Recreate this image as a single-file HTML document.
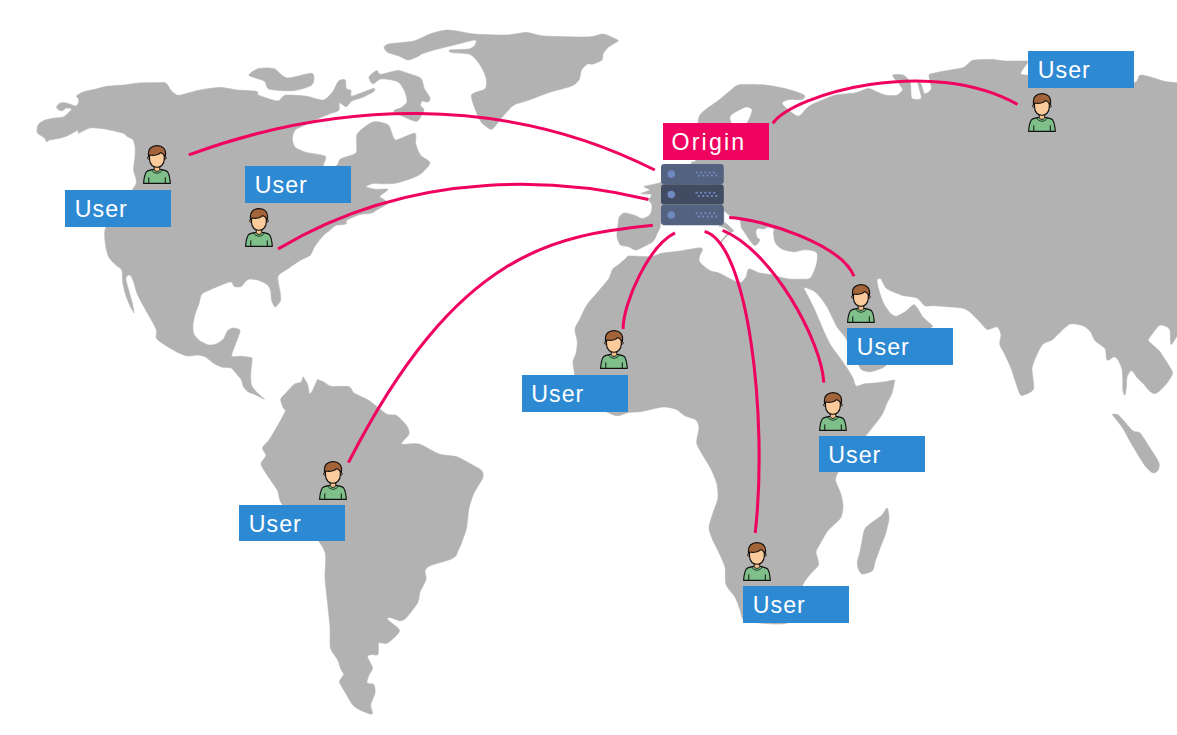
<!DOCTYPE html>
<html lang="en">
<head>
<meta charset="utf-8">
<title>Origin and users map</title>
<style>
html,body{margin:0;padding:0;background:#fff;}
body{width:1177px;height:735px;overflow:hidden;position:relative;font-family:"Liberation Sans",sans-serif;}
#stage{position:absolute;left:0;top:0;width:1177px;height:735px;overflow:hidden;background:#fff;}
#map{position:absolute;left:0;top:0;}
.l{fill:#b2b2b2;stroke:#b2b2b2;stroke-width:0.6;stroke-linejoin:round;}
.w{fill:#fff;stroke:#fff;stroke-width:0.6;stroke-linejoin:round;}
.ln{fill:none;stroke:#f00360;stroke-width:3.05;stroke-linecap:butt;}
.lab{position:absolute;width:106px;height:36.7px;background:#2e89d3;color:#fff;font-size:23.2px;letter-spacing:1px;line-height:36.7px;box-sizing:border-box;padding-left:9.8px;padding-top:1.1px;white-space:nowrap;}
.lab.org{background:#f00360;letter-spacing:2.2px;padding-left:8.4px;}
.ic{position:absolute;overflow:visible;}
#srv{position:absolute;left:661.1px;top:164.3px;}
</style>
</head>
<body>
<div id="stage">
<svg id="map" width="1177" height="735" viewBox="0 0 1177 735">
<g>
<path class="l" d="M37,129.9C37.1,128.8 37.5,125.6 38.4,124.4C39.3,123.2 42.8,121 44.5,120.3C46.2,119.6 50.4,118.7 52.7,118.3C55,117.9 61.5,117.6 63.5,116.9C65.5,116.2 68,113.2 69,112.2C70,111.2 72,109.3 71.7,108.8C71.4,108.3 67.4,107.9 66.3,108.1C65.2,108.3 63.2,110.6 62.2,110.8C61.2,111 58.8,110 58.1,109.5C57.4,109 56.5,107.4 56.7,106.7C56.9,106 58.5,103.8 59.5,103.3C60.5,102.8 63.4,102.5 64.9,102.7C66.4,102.9 70.4,104.3 71.7,104.7C73,105.1 75,106.3 75.8,106.1C76.6,105.9 78.2,103.6 78.5,102.7C78.8,101.8 78.7,99.4 78.5,98.6C78.3,97.8 75.9,96.7 76.5,95.9C77.1,95.1 81.5,92.6 83.9,91.8C86.3,91 93.4,89.7 96.2,89C99,88.3 103.8,86.8 107.1,86.3C110.4,85.8 119.5,85.4 123.4,85C127.3,84.6 135.8,83.2 139.7,82.9C143.6,82.6 153,82.7 156.1,82.7C159.2,82.7 163.8,82 165.6,82.9C167.4,83.8 169.9,89.1 171,90.4C172.1,91.7 174,93.2 175.1,93.8C176.2,94.4 177,95.7 180,95.2C183,94.7 195.2,90.9 200,90C204.8,89.1 215.5,87.5 220,87.5C224.5,87.5 233.1,89.5 237.5,90C241.9,90.5 254.2,90.8 256.7,91.4C259.2,92 256.1,94 258.6,95.2C261.1,96.4 274.4,101 277.6,101C280.8,101 281.8,95.8 285.2,95.2C288.6,94.6 301.6,95.6 306.2,96.2C310.8,96.8 320.1,100.6 323.3,100C326.5,99.4 331.1,93.7 332.9,91.4C334.7,89.1 337.1,82.4 338.6,81C340.1,79.6 344.3,79.1 345.2,80C346.1,80.9 345.5,87.3 346.2,88.6C346.9,89.9 350.3,89.6 351,90.5C351.7,91.4 349.4,96.4 352,96.2C354.6,96 370.3,89.2 372.9,88.6C375.5,88 375,90.4 373.8,91.4C372.6,92.4 365.9,95.8 363.3,97C360.7,98.2 354.1,99.8 352,101C349.9,102.2 347.7,106.5 346.2,106.7C344.7,106.9 340.4,102.4 339.5,102.9C338.6,103.4 340,109.1 338.6,110.5C337.2,111.9 330.7,113.4 328,114.5C325.3,115.6 318.9,118.2 316,119.5C313.1,120.8 306.5,124.3 304,125.5C301.5,126.7 296.9,128.2 295.5,129.5C294.1,130.8 292.8,134.9 292.5,136.5C292.2,138.1 292.6,141.6 293,143C293.4,144.4 294.4,146.9 296,148C297.6,149.1 302.7,151.4 306.2,152.4C309.7,153.4 323.1,154.6 325.2,156.2C327.3,157.8 322.7,164.3 323.3,165.7C323.9,167.1 328.3,168.1 330,168C331.7,167.9 336.3,165.9 337.6,164.8C338.9,163.7 338.3,160.4 340.5,159C342.7,157.6 353.8,155.1 355.7,153.3C357.6,151.5 356.5,146.2 356.7,143.8C356.9,141.4 355.7,135.9 357.6,133.3C359.5,130.7 369.3,123 372.9,122C376.5,121 385.6,123.1 388,124.8C390.4,126.5 391.9,134.4 392.9,136.2C393.9,138 394.1,140.3 396.7,140C399.3,139.7 412.5,132.8 414.8,133.3C417.1,133.8 415,141.2 415.7,143.8C416.4,146.4 418.8,152.9 420.5,155.2C422.2,157.5 430,160.6 430,162.9C430,165.2 422.9,172.1 420.5,174C418.1,175.9 412.6,177.9 409.7,179C406.8,180.1 399.3,182.4 396,183C392.7,183.6 385.2,183.8 382.4,183.8C379.6,183.8 375,183.1 373,183.4C371,183.7 365.7,186 366,186.7C366.3,187.4 373,189 375.6,189.3C378.2,189.6 387.1,188.7 387.9,189.3C388.7,189.9 383.4,193.1 382.4,194C381.4,194.9 379.5,196 379.7,196.7C379.9,197.4 382.8,198.7 383.8,199.5C384.8,200.3 387.7,202.4 388,203C388.3,203.6 387.7,203.8 386.5,204.5C385.3,205.2 380.2,208 378.4,209C376.6,210 373.8,212.3 371.6,213C369.4,213.7 363,213.7 360,214.5C357,215.3 348.7,218.9 347,220C345.3,221.1 347,223.4 345.7,224C344.4,224.6 338,224.7 336.2,225.3C334.4,225.9 332.3,228.1 330.7,229.4C329.1,230.7 324.6,234.1 322.6,236.2C320.6,238.3 315.9,244.7 314.4,247C312.9,249.3 311.9,253.6 310.3,255.2C308.7,256.8 303.4,258.5 300.8,260C298.2,261.5 291.7,266 289,268C286.3,270 279.1,273.5 278,276.3C276.9,279.1 279.7,288.4 280,291.3C280.3,294.2 281,298.9 280.4,300.8C279.8,302.7 276.2,307 275.2,307C274.2,307 272.4,302.8 271.8,300.8C271.2,298.8 271.1,292 270.5,290C269.9,288 268.4,285.7 267,284.5C265.6,283.3 261.1,281.1 259,280.4C256.9,279.7 251,278.8 249.4,279C247.8,279.2 246.3,280.9 245.3,281.8C244.3,282.7 242.5,285.9 241.2,286.5C239.9,287.1 235.6,287.1 234.4,286.5C233.2,285.9 232.6,282 231,281.8C229.4,281.6 223.2,284.3 220.8,285.2C218.4,286.1 213.6,288.2 211.3,289.3C209,290.4 203.3,292.3 201.8,294C200.3,295.7 199.8,301.1 199,303.5C198.2,305.9 195.7,311.9 195,314.4C194.3,316.9 193.2,321.7 193,324C192.8,326.3 192.9,331.5 193.6,333.5C194.3,335.5 197.2,338.9 199,340.3C200.8,341.7 206.5,344.6 208.6,345C210.7,345.4 214.9,344.4 216.7,343.7C218.5,343 222.2,340.6 223.5,339C224.8,337.4 226.5,332 227.6,330.7C228.7,329.4 231.5,328.1 233,328C234.5,327.9 239.2,329 239.9,330C240.6,331 239.2,334.2 238.5,336.2C237.8,338.2 235.2,344.6 234.4,347C233.6,349.4 230.9,355.2 231.7,356.3C232.5,357.4 238.8,356.1 241.2,356.3C243.6,356.5 250.1,357.2 251.4,357.7C252.7,358.2 252.1,358.4 252,360.4C251.9,362.4 250.8,371 250.7,374C250.6,377 250.7,382.9 251.4,385C252.1,387.1 254.6,390 256.2,391.7C257.8,393.4 264.4,399.2 264.4,399.2C264.4,399.2 256.8,395.3 254.8,394.4C252.8,393.5 249.4,392.7 248,391.7C246.6,390.7 244.1,387.8 243.3,386.3C242.5,384.8 242.3,381.3 241.2,379.5C240.1,377.7 235.6,372.7 234.4,371.3C233.2,369.9 232.5,368.4 231,367.9C229.5,367.4 224.2,367.7 222.2,367.2C220.2,366.7 216,364.7 214,363.5C212,362.3 207.4,358 205.5,357C203.6,356 200.1,355.1 198,355C195.9,354.9 190.5,356.2 188.2,356C185.9,355.8 181.7,354.3 179,353C176.3,351.7 168.4,347.3 165.7,345.5C163,343.7 157.6,340.2 156.5,338.4C155.4,336.6 157.1,332.4 156.5,330.2C155.9,328 153,322.9 151.4,320C149.8,317.1 145,308.9 143.3,305.7C141.6,302.5 138.2,296.2 137.1,293.5C136,290.8 134.8,285.4 134.1,283.3C133.4,281.2 131.7,277.1 131,276.1C130.3,275.1 128.6,274.7 128,275.1C127.4,275.5 125.8,277.2 125.9,279.2C126,281.2 128.3,288.7 129,291.4C129.7,294.1 131.4,299 132,301.6C132.6,304.2 134.1,312.9 134.1,312.9C134.1,312.9 131,307.8 130,305.7C129,303.6 126.8,298.2 125.9,295.5C125,292.8 123.4,286.4 122.9,283.3C122.4,280.2 122.7,272.2 121.8,270C120.9,267.8 117.3,266.5 115.7,264.9C114.1,263.3 109.8,259.1 108.6,256.7C107.4,254.3 105.9,247.9 105.5,244.5C105.1,241.1 103.8,232.9 105.5,228.2C107.2,223.5 116.3,210.3 120,205C123.7,199.7 134.4,188.2 136,184C137.6,179.8 133.7,173.2 133.6,170C133.5,166.8 134.8,160 135,157.1C135.2,154.2 135.3,148.3 135,146.2C134.7,144.1 133.8,140.5 132.9,139.4C132,138.3 128.6,137.4 127.5,136.7C126.4,136 125.2,134 123.4,133.3C121.6,132.6 115.1,131.1 112.5,130.5C109.9,129.9 104.2,128.8 101.6,128.5C99,128.2 92.8,127.6 90.7,127.8C88.6,128 85.4,129.8 83.9,130.5C82.4,131.2 78.5,133.3 78.5,133.3C78.5,133.3 77.8,129.9 77.8,129.9C77.8,129.9 75.9,131.1 74.4,131.9C72.9,132.7 67,135.9 64.9,136.7C62.8,137.5 58.6,138.3 56.7,138.7C54.8,139.1 50.5,139.7 49.3,140.1C48.1,140.5 46.5,142.1 46.5,142.1C46.5,142.1 45.6,139.1 44.5,138C43.4,136.9 38.6,134.3 37.7,133.3C36.8,132.3 36.9,131 37,129.9Z"/>
<path class="l" d="M249,75.2C248.3,73.7 255.6,69.4 258.6,68.6C261.6,67.8 270.4,67.5 273.8,68.6C277.2,69.7 282.4,77.4 287,78C291.6,78.6 309,72.5 312,73.3C315,74.1 314.1,82.7 312,84.8C309.9,86.9 298.7,89.8 294.8,90.5C290.9,91.2 282.7,90.7 279.5,90.5C276.3,90.3 269.8,89.7 268,88.6C266.2,87.5 266.6,82.6 264.3,81C262,79.4 249.7,76.7 249,75.2Z"/>
<path class="l" d="M369,77C369.5,75.4 375.3,70.8 376.7,70.5C378.1,70.2 378,74.3 380.5,74.3C383,74.3 394.6,70.7 397.6,70.5C400.6,70.3 402.5,71.5 405.2,72.4C407.9,73.3 418.2,76.1 420.5,78C422.8,79.9 423.2,86.2 424.3,88.6C425.4,91 429.6,96.4 430,98C430.4,99.6 428.9,101.6 428,102C427.1,102.4 423.3,100.6 422.4,101C421.5,101.4 420.3,104.6 420.5,105.7C420.7,106.8 424.3,108.2 424,110C423.7,111.8 419.4,119.9 417.6,121C415.8,122.1 411.9,120.2 409,119C406.1,117.8 394.7,112.8 393.8,111.4C392.9,110 399.8,108.7 401.4,107.6C403,106.5 406.5,103.8 407,102C407.5,100.2 406.1,94.7 405.2,92.4C404.3,90.1 401.1,84.4 399.5,82.9C397.9,81.4 394.3,80.5 392,80C389.7,79.5 382.8,78.5 380.5,79C378.2,79.5 374.3,84 372.9,83.8C371.5,83.6 368.5,78.6 369,77Z"/>
<path class="l" d="M384,47.5C384.1,46.5 385.4,44.8 389,44C392.6,43.2 409.1,42.2 414,41C418.9,39.8 425.9,35.3 430,34C434.1,32.7 442.7,30 448,30C453.3,30 467,33.4 474,34C481,34.6 500.2,35.2 506.5,35C512.8,34.8 522,32.4 526.5,32.5C531,32.6 536.6,35.5 544,36C551.4,36.5 580.9,37.2 588,37C595.1,36.8 599.7,33.8 603,34C606.3,34.2 613.7,38.2 615.5,39C617.3,39.8 618.9,40 618,41C617.1,42 609.8,45.9 608,47.5C606.2,49.1 603.7,52.5 603,54C602.3,55.5 603.2,58.8 602,60C600.8,61.2 594.7,63.5 593,64C591.3,64.5 588.9,63.3 587.5,64C586.1,64.7 582.5,68.1 581.5,70C580.5,71.9 580.2,78.1 579,80C577.8,81.9 575.1,84.5 571.5,86C567.9,87.5 554.1,90.8 549,92.5C543.9,94.2 533.2,98.5 529,100C524.8,101.5 517,103.2 514,105C511,106.8 506.4,112.3 504,115C501.6,117.7 495.7,125.8 494,127.5C492.3,129.2 491.5,129.6 490,129C488.5,128.4 483.1,124.5 481.5,122.5C479.9,120.5 477.7,115.8 476.5,112.5C475.3,109.2 470.5,97.8 471.5,95C472.5,92.2 483.2,90.8 485,89C486.8,87.2 486.7,82.3 486.5,80C486.3,77.7 484.2,72.4 483,70C481.8,67.6 478.2,61.9 476.5,60C474.8,58.1 472,54.9 469,54C466,53.1 453.8,53 451.5,52.5C449.2,52 447.9,50.4 450,50C452.1,49.6 466,49.6 469,49C472,48.4 474.3,46.1 475,45C475.7,43.9 477.5,40 475,40C472.5,40 458.9,43.8 454,45C449.1,46.2 437.9,48.9 434,50C430.1,51.1 423.3,53.3 421.5,54C419.7,54.7 420.6,55.3 419,56C417.4,56.7 410.4,60 408,60C405.6,60 401.4,56.9 399,56C396.6,55.1 389.8,53.5 388,52.5C386.2,51.5 383.9,48.5 384,47.5Z"/>
<path class="l" d="M294.3,384.2C296.1,382.9 300,383.1 301,382.2C302,381.3 303,376.7 303,376.7C303,376.7 306.4,381.5 307.2,383.5C308,385.5 309.3,393.7 309.3,393.7C309.3,393.7 311,393.4 312,391.7C313,390 317.4,379.5 317.4,379.5C317.4,379.5 322.6,381.4 324.2,382.2C325.8,383 328,385.8 331,386.3C334,386.8 346.2,385.9 349,386.7C351.8,387.5 351.6,391.3 354,393C356.4,394.7 365.1,398 369,400.5C372.9,403 383.2,412.2 386.5,414C389.8,415.8 394.1,414.1 396.5,415.5C398.9,416.9 405,423.3 406.5,425.5C408,427.7 409.6,431.8 409,434C408.4,436.2 400.3,442.8 401.5,444C402.7,445.2 414.5,442.8 419,444C423.5,445.2 434.5,452.5 439,454C443.5,455.5 452.9,455.6 456.5,456.7C460.1,457.8 466,461.3 469,463C472,464.7 479.9,468.7 481.5,470.5C483.1,472.3 483.6,475.3 482.7,478C481.8,480.7 475.6,489.4 474,493C472.4,496.6 469.9,503.8 469,508C468.1,512.2 467.4,523.8 466.5,528C465.6,532.2 462.6,540.1 461.5,543C460.4,545.9 458.2,550.5 457.5,552C456.8,553.5 456.9,554.8 456,555.7C455.1,556.6 453.1,558.3 450,559.5C446.9,560.7 433,564.4 430,565.7C427,567 425.5,569 425,570.7C424.5,572.4 426.6,576.9 426,579.5C425.4,582.1 421,589.2 420,592C419,594.8 419.2,599.9 417.5,603C415.8,606.1 408.1,615.9 406,618C403.9,620.1 401.9,620.8 400,620.7C398.1,620.6 391.5,617.6 390,617.5C388.5,617.4 386.4,617.9 387.5,619.5C388.6,621.1 399.5,627.9 399.5,630.7C399.5,633.5 390,641.5 387.5,643C385,644.5 379.8,641.6 378.7,643C377.6,644.4 378.9,653.1 378,654.5C377.1,655.9 372.3,654.2 371,654.5C369.7,654.8 367.3,655.4 367.5,657C367.7,658.6 372.4,665.8 372.5,668C372.6,670.2 369.4,673.9 368.7,675.7C368,677.5 366.4,681.9 367,683C367.6,684.1 372.7,683.3 373.7,684.5C374.7,685.7 375.4,690.6 375,693C374.6,695.4 371,702.1 370.7,704.5C370.4,706.9 372.6,711.9 372.5,713C372.4,714.1 371.5,714.4 370,714C368.5,713.6 362.1,711.1 360,710C357.9,708.9 354.3,706.7 352.5,704.5C350.7,702.3 346.6,694.7 345,692C343.4,689.3 339.7,684.1 339.5,682C339.3,679.9 343.5,676 343.7,674.5C343.9,673 341.7,671.3 341,669.5C340.3,667.7 338.8,662.1 337.5,659.5C336.2,656.9 331.4,651.9 330.5,648C329.6,644.1 330.4,632.5 330,627C329.6,621.5 328.1,608 327.5,602C326.9,596 325.3,583 325,577C324.7,571 326.8,557.6 325,552C323.2,546.4 315.1,535.7 310,530C304.9,524.3 286.4,509.4 282.5,504.7C278.6,500 279.3,494 277.5,490.5C275.7,487 269.5,478.7 267.5,475.5C265.5,472.3 261.2,466.4 261,464C260.8,461.6 265.8,457.4 266,455.5C266.2,453.6 262.1,449.9 262.5,448C262.9,446.1 267.5,442.2 269,440C270.5,437.8 273.8,432.2 275.2,429.8C276.6,427.4 279.5,422.6 280.7,420.3C281.9,418 285.1,412.2 285.4,410.7C285.7,409.2 284,409.4 283.4,408C282.8,406.6 280.4,401 280.7,399.2C281,397.4 284.4,394.8 286,393C287.6,391.2 292.5,385.5 294.3,384.2Z"/>
<path class="l" d="M661,182.4C657.6,183.6 654,184.2 652,184.7C650,185.2 644.2,186.1 644,186.7C643.8,187.3 650.4,189.2 650,190C649.6,190.8 640.6,193.2 640.8,193.7C641,194.2 650.4,193.7 651.4,194.5C652.4,195.3 648.9,198.7 649,200C649.1,201.3 651.7,203.6 652,205C652.3,206.4 651.8,210.3 651.4,211.6C651,212.9 650.1,214.9 649,215.7C647.9,216.5 644.2,218.6 642.4,218.6C640.6,218.6 636.4,216 634.3,215.3C632.2,214.6 626.3,212.8 624.5,212.9C622.7,213 620.3,215.4 619.6,216.5C618.9,217.6 618.7,219.6 618.4,222C618.1,224.4 616.7,233.7 617,236.5C617.3,239.3 619.2,243.8 620.5,245C621.8,246.2 626.2,245.9 628,246.5C629.8,247.1 633.9,249.8 635.5,250C637.1,250.2 638.9,249 641,248C643.1,247 651.1,243.2 653,241.5C654.9,239.8 656.2,235.6 657,234C657.8,232.4 659,229.4 660,228C661,226.6 658,222.7 665,222C672,221.3 711.5,221.5 718,222C724.5,222.5 719,226.3 719,226.3C719,226.3 722.7,226.8 724,227.5C725.3,228.2 729.1,230.9 729.5,231.8C729.9,232.7 727.6,235.3 727.6,235.3C727.6,235.3 720.6,243.2 720.6,243.2C720.6,243.2 720,242.4 720,242.4C720,242.4 726.6,234.6 726.6,234.6C726.6,234.6 730.1,232.6 731,232.2C731.9,231.8 734,231 734,231C734,231 728.4,225.4 727.2,224.3C726,223.2 723.8,222.2 723.8,222.2C723.8,222.2 723.8,210.6 723.8,210.6C723.8,210.6 727.4,213.8 728.6,214.7C729.8,215.6 732.6,217.3 734,218C735.4,218.7 739.1,219 740,220.2C740.9,221.4 740.9,226.2 741.5,227.7C742.1,229.2 744.1,231.6 745,233C745.9,234.4 748,237.8 749,239.2C750,240.6 752.8,244.3 753.7,245C754.6,245.7 755.7,245.6 756.5,245C757.3,244.4 759.9,240.9 760,240C760.1,239.1 757.5,238.2 757,237.2C756.5,236.2 755.7,232.8 755.8,231.7C755.9,230.6 756.8,228.6 757.8,228.3C758.8,228 762.8,229.2 764,229C765.2,228.8 766.8,227 768,227C769.2,227 773.3,228.3 774,229C774.7,229.7 773.4,231.5 773.5,233C773.6,234.5 774.3,239.8 774.8,241.3C775.3,242.8 776.5,244.7 777.6,245.7C778.7,246.7 781.7,249.1 783.7,249.8C785.7,250.5 791.5,251.8 793.9,251.8C796.3,251.8 801.7,249.9 804,249.8C806.3,249.7 811.7,250.3 813.3,250.8C814.9,251.3 816.9,252.3 817.3,253.9C817.7,255.5 817.2,261.5 816.6,264C816,266.5 813.5,273 812.5,274.8C811.5,276.6 811.3,278.4 808.4,278.9C805.5,279.4 792.6,279.4 788,278.9C783.4,278.4 773.4,275.3 770,274.6C766.6,273.9 762.2,273.7 759.7,273C757.2,272.3 750.4,268.5 748.8,269C747.2,269.5 747,275.5 746,277.1C745,278.7 742.2,282.3 740.6,282.6C739,282.9 735,281.1 732.4,279.9C729.8,278.7 721.4,274.1 718.8,273C716.2,271.9 712.7,272 710.7,271C708.7,270 703.9,266.1 702.5,264.9C701.1,263.7 699.4,261.9 699.1,260.8C698.8,259.7 699.4,256.8 699.8,255.4C700.2,254 702.7,250.2 702.5,249.3C702.3,248.4 701.3,247.7 698.4,247.9C695.5,248.1 682.4,250.7 678,251.3C673.6,251.9 665,252.7 661.7,253.3C658.4,253.9 654.7,256.4 650.8,256.7C646.9,257 631.9,255.8 629,256C626.1,256.2 627.6,256.9 626.3,258C625,259.1 619.8,263.6 618.2,264.9C616.6,266.2 613.8,267.3 612.7,269C611.6,270.7 610.6,276 608.8,278.7C607,281.4 600.6,288.7 598,291.8C595.4,294.9 589.1,301.7 587,304.8C584.9,307.9 581.9,315 580.5,317.9C579.1,320.8 575.4,325.9 575,328.8C574.6,331.7 577.2,338.9 577.3,341.8C577.4,344.7 576.7,350.3 576.2,352.7C575.7,355.1 573.3,359.3 573,361.4C572.7,363.5 573.8,368.2 574,370C574.2,371.8 574.3,373.4 575,376C575.7,378.6 578,388.5 580,392C582,395.5 588.8,402.6 592,405C595.2,407.4 603.5,410.6 606.6,411.9C609.7,413.2 614.9,415.7 617.5,415.8C620.1,415.9 625.5,413 628.4,412.5C631.3,412 637.3,412.2 641.5,411.5C645.7,410.8 658.9,407.3 663,407C667.1,406.7 673.4,408.2 676,409.3C678.6,410.4 682.6,414.5 685,415.8C687.4,417.1 694.3,418.5 696,420C697.7,421.5 698.9,425.2 699,428C699.1,430.8 696.2,439.7 696.7,443C697.2,446.3 701.3,452.5 703,455.5C704.7,458.5 708.9,464.7 710.5,468C712.1,471.3 715.8,479.4 716.7,483C717.6,486.6 718.4,494.4 718,498C717.6,501.6 714.1,509.4 713,513C711.9,516.6 709,524.7 709,528C709,531.3 711.8,537.6 713,540.5C714.2,543.4 717.3,548.8 718.7,552C720.1,555.2 724.1,563.1 725,567C725.9,570.9 724.8,580.9 726,584.5C727.2,588.1 733.3,594 735,597C736.7,600 739,606.8 740,609.5C741,612.2 741.8,618 743,619.5C744.2,621 744.4,621.7 750,622C755.6,622.3 783.7,626.4 790,622C796.3,617.6 800,591.4 802.4,585.7C804.8,580 808.1,577 810,574.5C811.9,572 817.9,567.2 818.6,564.5C819.3,561.8 815.8,554.6 816,552C816.2,549.4 819.1,545.6 820.5,543C821.9,540.4 825.6,533.5 828,530.5C830.4,527.5 838.7,521 840.5,518C842.3,515 843,508.5 843,505.5C843,502.5 841.4,496 840.5,493C839.6,490 835.8,483 835.5,480.5C835.2,478 836.3,475.6 838,472.5C839.7,469.4 846.4,459.7 850,455C853.6,450.3 864.2,437.7 868,433C871.8,428.3 879.2,419.1 881.5,415.5C883.8,411.9 885.7,405.7 887,403C888.3,400.3 891.1,395.5 892,393C892.9,390.5 894.2,383.4 894.5,381.8C894.8,380.2 895.2,380 894.3,380C893.4,380 889,381.1 886.7,381.5C884.4,381.9 877.9,382.7 875.2,383C872.5,383.3 866.1,383.6 863.8,384C861.5,384.4 857.4,386.8 856.1,386.1C854.8,385.4 854,380.1 852.9,378C851.8,375.9 848.8,370.8 847.1,368.2C845.4,365.6 841,359.4 839,356.7C837,354 832.6,348.2 830.8,345.3C829,342.4 825.7,335.1 824.3,332.2C822.9,329.3 820.6,323.5 819.4,320.8C818.2,318.1 815.9,312.3 814.5,309.4C813.1,306.5 809.3,298.8 808,296.3C806.7,293.8 804.1,289.2 803.9,288.2C803.7,287.2 805,287.4 806.3,287.8C807.6,288.2 812.7,290.2 814.5,291.4C816.3,292.6 819.4,296 821,298C822.6,300 826.2,305.4 827.6,307.8C829,310.2 831.2,315.3 832.4,317.6C833.6,319.9 835.9,325.2 837.3,327.3C838.7,329.4 842.7,333.9 843.9,335.5C845.1,337.1 846.1,338.4 847.1,340.4C848.1,342.4 850.6,349.1 852,352C853.4,354.9 857.4,362.8 858.6,364.9C859.8,367 860.4,369 861.8,369.8C863.2,370.6 867.7,371.9 870,371.8C872.3,371.7 879,369.4 881,368.6C883,367.8 883.2,367.6 886.7,364.8C890.2,362 904.7,349.4 910,345C915.3,340.6 927.8,330.3 930.5,328C933.2,325.7 933.3,327 932.4,325.7C931.5,324.4 924.7,319.2 922.9,317C921.1,314.8 918.2,309.1 917,307.6C915.8,306.1 914.7,304.3 913.3,304.8C911.9,305.3 907.8,310 905.7,311.4C903.6,312.8 898,316 896.2,316.2C894.4,316.4 892,314.8 890.5,313.3C889,311.8 885.2,306.5 883.8,303.8C882.4,301.1 879.8,293.4 879,290.5C878.2,287.6 876.8,281.4 877,280C877.2,278.6 879.8,278 881,279C882.2,280 884.2,286.7 886.7,288.6C889.2,290.5 898.4,294.1 902,295.2C905.6,296.3 914.3,296.7 917,298C919.7,299.3 923,304.8 924.8,305.7C926.6,306.6 929.7,305.6 932.4,305.7C935.1,305.8 944,306.4 947.6,306.7C951.2,307 959.3,307.4 962,308C964.7,308.6 967.6,310.1 969.7,311.8C971.8,313.5 977.6,319.7 979.7,321.8C981.8,323.9 985.2,328.8 987.3,329.4C989.4,330 995.7,326.3 997.3,326.9C998.9,327.5 1000.7,332.3 1001,334.4C1001.3,336.5 999.3,342 999.8,344.4C1000.3,346.8 1003.5,351.6 1004.8,354.4C1006.1,357.2 1009.4,363.7 1011,368C1012.6,372.3 1017.2,387.2 1018.5,390.5C1019.8,393.8 1020.2,395.7 1022,395.5C1023.8,395.3 1032.3,392.3 1033.5,389C1034.7,385.7 1031.5,372.7 1032,368.4C1032.5,364.1 1036.1,356.4 1037.4,353.5C1038.7,350.6 1041.2,345.6 1043,344C1044.8,342.4 1050.3,341 1052,340C1053.7,339 1054.8,337.2 1057,335.3C1059.2,333.4 1066.8,325.1 1070,324C1073.2,322.9 1081,325 1083.5,326C1086,327 1089.3,330.3 1090.7,332C1092.1,333.7 1093.1,338.4 1094.8,340.4C1096.5,342.4 1103.6,346.4 1105,348.6C1106.4,350.8 1106,357.4 1106.5,358.8C1107,360.2 1108.1,360.3 1109,360C1109.9,359.7 1112.9,356.7 1114,356.7C1115.1,356.7 1117,358.3 1118,359.8C1119,361.3 1121.4,366.5 1122,369C1122.6,371.5 1122.7,378.3 1122.8,381C1122.9,383.7 1122.7,389.7 1123,391.4C1123.3,393.1 1124.6,395.6 1125,395C1125.4,394.4 1126.2,388.2 1126.4,386C1126.6,383.8 1126.5,378.8 1127,377C1127.5,375.2 1129.7,371.6 1130.5,371C1131.3,370.4 1132.8,371.3 1133.5,372C1134.2,372.7 1135.4,375.6 1136.6,377C1137.8,378.4 1142.2,382.4 1143.7,384C1145.2,385.6 1147.8,389.3 1149,390.4C1150.2,391.5 1152.8,393.4 1154,393.5C1155.2,393.6 1157.4,392.7 1159,391.4C1160.6,390.1 1165.4,385 1167,383C1168.6,381 1171.4,376.4 1172,375C1172.6,373.6 1172.7,372.7 1172,371C1171.3,369.3 1167.6,363.4 1166,361C1164.4,358.6 1161,353 1159,350.6C1157,348.2 1150.2,342.9 1149,341.4C1147.8,339.9 1147.8,340.3 1149,338.4C1150.2,336.5 1157.1,327.1 1159,325.6C1160.9,324.1 1163.7,325.5 1165,326C1166.3,326.5 1169.3,327.8 1170,330C1170.7,332.2 1170.2,343.8 1171,344.5C1171.8,345.2 1176.2,337 1177,336C1177.8,335 1177.9,366.4 1178,336C1178.1,305.6 1178.1,113.1 1178,82.7C1177.9,52.3 1178.5,82.8 1177,82.7C1175.5,82.6 1168.1,82.1 1165.2,81.5C1162.3,80.9 1155.7,78.5 1152.7,77.7C1149.7,76.9 1142.2,74.6 1140,75.2C1137.8,75.8 1138.8,81.9 1134,82.7C1129.2,83.5 1112.7,82.9 1100,82C1087.3,81.1 1037.3,76.4 1027.8,75.3C1018.3,74.2 1020.8,74.6 1020.8,73C1020.8,71.4 1027.5,63.4 1027.8,62C1028.1,60.6 1025.7,61.1 1023,61C1020.3,60.9 1009,61.2 1005.3,61C1001.6,60.8 995.7,59.5 992,59.4C988.3,59.3 977,59.6 974.4,59.9C971.8,60.2 971.3,61.1 970,62C968.7,62.9 965.4,66.7 963.3,67.6C961.2,68.5 955.7,69.2 952.3,69.8C948.9,70.4 937.4,72.3 934.6,73C931.8,73.7 929.4,73.4 929,75.3C928.6,77.2 931.8,86.4 931.3,88.6C930.8,90.8 925.9,94.6 924.7,94C923.5,93.4 921.8,85.3 921,84C920.2,82.7 918,81.4 918,83C918,84.6 921.5,95.4 921.4,97.4C921.3,99.4 918.2,99.6 917,99.6C915.8,99.6 912.2,99.4 911.4,97.4C910.6,95.4 911.2,85.7 910.3,83C909.4,80.3 905.8,76.2 903.7,75.3C901.6,74.4 893.2,74.2 892.7,75.3C892.2,76.4 898.1,82.5 899.3,84.2C900.5,85.9 902.9,88.4 902.6,89.7C902.3,91 899,94.5 897,95.2C895,95.9 888.4,95.6 886,95.2C883.6,94.8 879.1,92.8 877,92C874.9,91.2 871,88.5 868.4,88.6C865.8,88.7 859,92.2 855,93C851,93.8 840,93.9 835,95.2C830,96.5 816.4,102.4 813,104C809.6,105.6 808.3,107 806.5,108.5C804.7,110 800.6,116.7 797.7,116.2C794.8,115.7 783.3,106 782.2,104C781.1,102 786.4,100.1 788.8,99.6C791.2,99.1 800.1,100.1 802,99.6C803.9,99.1 805.4,96.3 804.3,95.2C803.2,94.1 795.9,91.7 793,90.8C790.1,89.9 783.6,88.2 780,87.5C776.4,86.8 767.8,85.1 762.9,84.8C758,84.5 742.9,84.1 739,84.8C735.1,85.5 732.9,88.7 730.5,90.5C728.1,92.3 722,97.7 719,100C716,102.3 708,107.7 705.7,109.5C703.4,111.3 700.9,113.4 700,115C699.1,116.6 698.5,117.7 698,123C697.5,128.3 696.7,154.3 696,159C695.3,163.7 692.7,161.2 692,162C691.3,162.8 691.4,164.4 690,166C688.6,167.6 683.5,173 680,175C676.5,177 664.4,181.2 661,182.4Z"/>
<path class="l" d="M887,508C887.9,508.3 889.1,515 889,518C888.9,521 886.6,530 885.8,533C885,536 882.9,540.7 882,543C881.1,545.3 879.4,549.7 878.6,552C877.8,554.3 875.7,559.8 875,562C874.3,564.2 873.9,569.3 872.4,570.7C870.9,572.1 864.1,574.1 862.4,574C860.7,573.9 859.2,570.9 858.6,569.5C858,568.1 857.2,564.1 857.4,562C857.6,559.9 859.5,554.3 860,552C860.5,549.7 861,545.9 861.7,543C862.4,540.1 863.1,531.3 865.5,528C867.9,524.7 878.9,517.9 881.5,515.5C884.1,513.1 886.1,507.7 887,508Z"/>
<path class="l" d="M1112.6,414.4C1113.1,414.1 1116.6,413.6 1119,415.6C1121.4,417.6 1130.1,428.6 1132.6,430.7C1135.1,432.8 1137.9,430.9 1140,433C1142.1,435.1 1147.7,444.4 1150,448C1152.3,451.6 1158.1,460.3 1159,463C1159.9,465.7 1158.5,469.6 1157.7,470.8C1156.9,472 1154.2,473.4 1152.7,472.8C1151.2,472.2 1147.4,469 1145,465.7C1142.6,462.4 1135.3,450.2 1132.6,445.7C1129.9,441.2 1124.7,431.3 1122.6,428C1120.5,424.7 1116.2,419.6 1115,418C1113.8,416.4 1112.1,414.7 1112.6,414.4Z"/>
<path class="w" d="M730.5,117C730.7,115.7 732.5,114.4 734.3,113.3C736.1,112.2 743.6,108.1 745.7,107.6C747.8,107.1 750.9,108.4 751.4,109.5C751.9,110.6 750.3,115.3 749.5,117C748.7,118.7 747,123.2 745,124C743,124.8 734.7,124.8 733,124C731.3,123.2 730.3,118.3 730.5,117Z"/>
</g>
<g>
<path class="ln" d="M188.8,154.9C333.5,101.8 502.2,92.7 654.8,170.0"/>
<path class="ln" d="M278.0,249.0C419.2,164.3 569.4,180.7 648.5,199.5"/>
<path class="ln" d="M348.4,462.6C457.1,249.7 555.0,235.6 652.9,225.3"/>
<path class="ln" d="M623.1,329.0C623.0,303.0 648.7,245.9 675.0,232.9"/>
<path class="ln" d="M704.6,231.4C748.4,242.8 768.2,418.7 755.2,533.0"/>
<path class="ln" d="M722.6,230.4C772.4,250.5 821.6,341.6 823.8,382.5"/>
<path class="ln" d="M729.2,217.4C762.2,219.2 840.8,243.7 854.0,276.2"/>
<path class="ln" d="M772.8,123.3C793.6,94.2 929.0,55.2 1017.6,104.4"/>
</g>
</svg>
<svg id="srv" width="62.8" height="61.4" viewBox="0 0 62.8 61.4">
<rect x="0" y="0" width="62.8" height="20.1" rx="3.4" fill="#53627f"/>
<rect x="0" y="20.35" width="62.8" height="20.25" rx="3.4" fill="#414b61"/>
<rect x="0" y="40.85" width="62.8" height="20.35" rx="3.4" fill="#53627f"/>
<g fill="#7088c0">
<circle cx="10.3" cy="10.1" r="3.8"/>
<rect x="34.60" y="7.4" width="2" height="2" rx="0.5"/><rect x="36.80" y="10.6" width="2" height="2" rx="0.5"/><rect x="38.98" y="7.4" width="2" height="2" rx="0.5"/><rect x="41.18" y="10.6" width="2" height="2" rx="0.5"/><rect x="43.36" y="7.4" width="2" height="2" rx="0.5"/><rect x="45.56" y="10.6" width="2" height="2" rx="0.5"/><rect x="47.74" y="7.4" width="2" height="2" rx="0.5"/><rect x="49.94" y="10.6" width="2" height="2" rx="0.5"/><rect x="52.12" y="7.4" width="2" height="2" rx="0.5"/><rect x="54.32" y="10.6" width="2" height="2" rx="0.5"/>
<circle cx="10.3" cy="30.5" r="3.8"/>
<rect x="34.60" y="27.8" width="2" height="2" rx="0.5"/><rect x="36.80" y="31.0" width="2" height="2" rx="0.5"/><rect x="38.98" y="27.8" width="2" height="2" rx="0.5"/><rect x="41.18" y="31.0" width="2" height="2" rx="0.5"/><rect x="43.36" y="27.8" width="2" height="2" rx="0.5"/><rect x="45.56" y="31.0" width="2" height="2" rx="0.5"/><rect x="47.74" y="27.8" width="2" height="2" rx="0.5"/><rect x="49.94" y="31.0" width="2" height="2" rx="0.5"/><rect x="52.12" y="27.8" width="2" height="2" rx="0.5"/><rect x="54.32" y="31.0" width="2" height="2" rx="0.5"/>
<circle cx="10.3" cy="51.0" r="3.8"/>
<rect x="34.60" y="48.2" width="2" height="2" rx="0.5"/><rect x="36.80" y="51.5" width="2" height="2" rx="0.5"/><rect x="38.98" y="48.2" width="2" height="2" rx="0.5"/><rect x="41.18" y="51.5" width="2" height="2" rx="0.5"/><rect x="43.36" y="48.2" width="2" height="2" rx="0.5"/><rect x="45.56" y="51.5" width="2" height="2" rx="0.5"/><rect x="47.74" y="48.2" width="2" height="2" rx="0.5"/><rect x="49.94" y="51.5" width="2" height="2" rx="0.5"/><rect x="52.12" y="48.2" width="2" height="2" rx="0.5"/><rect x="54.32" y="51.5" width="2" height="2" rx="0.5"/>
</g>
</svg>

<svg class="ic" style="left:143px;top:144.8px" width="27.8" height="39.4" viewBox="0 0 27.8 39.4">
<path d="M0.6,38.4 C0.9,33.5 1.8,29.5 3.3,27 C4.8,25.4 8,25 10.6,24.5 L17.4,24.5 C20,25 23.2,25.4 24.7,27 C26.2,29.5 27,33.5 27.3,38.4 Z" fill="#7fc08a" stroke="#111" stroke-width="1.15" stroke-linejoin="round"/>
<path d="M11.2,21 L11.2,24.8 C12.2,26.9 15.8,26.9 16.8,24.8 L16.8,21 Z" fill="#f5bf8c" stroke="#111" stroke-width="1" stroke-linejoin="round"/>
<path d="M8.8,24.9 C10.4,29.2 17.6,29.2 19.2,24.9" fill="none" stroke="#111" stroke-width="1"/>
<path d="M9.9,25.6 C11.5,28.2 16.5,28.2 18.1,25.6" fill="none" stroke="#5aa46a" stroke-width="0.8"/>
<path d="M5.8,32.4 L5.8,38.4 M22.3,32.4 L22.3,38.4" fill="none" stroke="#111" stroke-width="1"/>
<circle cx="5.9" cy="12.9" r="1.35" fill="#f5bf8c" stroke="#111" stroke-width="0.9"/>
<circle cx="21.9" cy="12.9" r="1.35" fill="#f5bf8c" stroke="#111" stroke-width="0.9"/>
<path d="M6.5,8 C6.5,2 21.3,2 21.3,8 L21.3,14 C21.3,19.6 17.5,22.3 13.9,22.3 C10.3,22.3 6.5,19.6 6.5,14 Z" fill="#fbcb9b" stroke="#111" stroke-width="1.15"/>
<path d="M5.7,11.8 C4,3.2 9.5,0.6 14,0.6 C19,0.6 24,3.4 22.2,11.8 C21.4,10 20.2,8.8 17.6,7.6 C16,9.6 11,11.2 6.9,10 C6.4,10.5 6,11.1 5.7,11.8 Z" fill="#a4643a" stroke="#111" stroke-width="1.15" stroke-linejoin="round"/>
</svg>
<svg class="ic" style="left:244.7px;top:208px" width="27.8" height="39.4" viewBox="0 0 27.8 39.4">
<path d="M0.6,38.4 C0.9,33.5 1.8,29.5 3.3,27 C4.8,25.4 8,25 10.6,24.5 L17.4,24.5 C20,25 23.2,25.4 24.7,27 C26.2,29.5 27,33.5 27.3,38.4 Z" fill="#7fc08a" stroke="#111" stroke-width="1.15" stroke-linejoin="round"/>
<path d="M11.2,21 L11.2,24.8 C12.2,26.9 15.8,26.9 16.8,24.8 L16.8,21 Z" fill="#f5bf8c" stroke="#111" stroke-width="1" stroke-linejoin="round"/>
<path d="M8.8,24.9 C10.4,29.2 17.6,29.2 19.2,24.9" fill="none" stroke="#111" stroke-width="1"/>
<path d="M9.9,25.6 C11.5,28.2 16.5,28.2 18.1,25.6" fill="none" stroke="#5aa46a" stroke-width="0.8"/>
<path d="M5.8,32.4 L5.8,38.4 M22.3,32.4 L22.3,38.4" fill="none" stroke="#111" stroke-width="1"/>
<circle cx="5.9" cy="12.9" r="1.35" fill="#f5bf8c" stroke="#111" stroke-width="0.9"/>
<circle cx="21.9" cy="12.9" r="1.35" fill="#f5bf8c" stroke="#111" stroke-width="0.9"/>
<path d="M6.5,8 C6.5,2 21.3,2 21.3,8 L21.3,14 C21.3,19.6 17.5,22.3 13.9,22.3 C10.3,22.3 6.5,19.6 6.5,14 Z" fill="#fbcb9b" stroke="#111" stroke-width="1.15"/>
<path d="M5.7,11.8 C4,3.2 9.5,0.6 14,0.6 C19,0.6 24,3.4 22.2,11.8 C21.4,10 20.2,8.8 17.6,7.6 C16,9.6 11,11.2 6.9,10 C6.4,10.5 6,11.1 5.7,11.8 Z" fill="#a4643a" stroke="#111" stroke-width="1.15" stroke-linejoin="round"/>
</svg>
<svg class="ic" style="left:319.2px;top:460.7px" width="27.8" height="39.4" viewBox="0 0 27.8 39.4">
<path d="M0.6,38.4 C0.9,33.5 1.8,29.5 3.3,27 C4.8,25.4 8,25 10.6,24.5 L17.4,24.5 C20,25 23.2,25.4 24.7,27 C26.2,29.5 27,33.5 27.3,38.4 Z" fill="#7fc08a" stroke="#111" stroke-width="1.15" stroke-linejoin="round"/>
<path d="M11.2,21 L11.2,24.8 C12.2,26.9 15.8,26.9 16.8,24.8 L16.8,21 Z" fill="#f5bf8c" stroke="#111" stroke-width="1" stroke-linejoin="round"/>
<path d="M8.8,24.9 C10.4,29.2 17.6,29.2 19.2,24.9" fill="none" stroke="#111" stroke-width="1"/>
<path d="M9.9,25.6 C11.5,28.2 16.5,28.2 18.1,25.6" fill="none" stroke="#5aa46a" stroke-width="0.8"/>
<path d="M5.8,32.4 L5.8,38.4 M22.3,32.4 L22.3,38.4" fill="none" stroke="#111" stroke-width="1"/>
<circle cx="5.9" cy="12.9" r="1.35" fill="#f5bf8c" stroke="#111" stroke-width="0.9"/>
<circle cx="21.9" cy="12.9" r="1.35" fill="#f5bf8c" stroke="#111" stroke-width="0.9"/>
<path d="M6.5,8 C6.5,2 21.3,2 21.3,8 L21.3,14 C21.3,19.6 17.5,22.3 13.9,22.3 C10.3,22.3 6.5,19.6 6.5,14 Z" fill="#fbcb9b" stroke="#111" stroke-width="1.15"/>
<path d="M5.7,11.8 C4,3.2 9.5,0.6 14,0.6 C19,0.6 24,3.4 22.2,11.8 C21.4,10 20.2,8.8 17.6,7.6 C16,9.6 11,11.2 6.9,10 C6.4,10.5 6,11.1 5.7,11.8 Z" fill="#a4643a" stroke="#111" stroke-width="1.15" stroke-linejoin="round"/>
</svg>
<svg class="ic" style="left:600px;top:330.2px" width="27.8" height="39.4" viewBox="0 0 27.8 39.4">
<path d="M0.6,38.4 C0.9,33.5 1.8,29.5 3.3,27 C4.8,25.4 8,25 10.6,24.5 L17.4,24.5 C20,25 23.2,25.4 24.7,27 C26.2,29.5 27,33.5 27.3,38.4 Z" fill="#7fc08a" stroke="#111" stroke-width="1.15" stroke-linejoin="round"/>
<path d="M11.2,21 L11.2,24.8 C12.2,26.9 15.8,26.9 16.8,24.8 L16.8,21 Z" fill="#f5bf8c" stroke="#111" stroke-width="1" stroke-linejoin="round"/>
<path d="M8.8,24.9 C10.4,29.2 17.6,29.2 19.2,24.9" fill="none" stroke="#111" stroke-width="1"/>
<path d="M9.9,25.6 C11.5,28.2 16.5,28.2 18.1,25.6" fill="none" stroke="#5aa46a" stroke-width="0.8"/>
<path d="M5.8,32.4 L5.8,38.4 M22.3,32.4 L22.3,38.4" fill="none" stroke="#111" stroke-width="1"/>
<circle cx="5.9" cy="12.9" r="1.35" fill="#f5bf8c" stroke="#111" stroke-width="0.9"/>
<circle cx="21.9" cy="12.9" r="1.35" fill="#f5bf8c" stroke="#111" stroke-width="0.9"/>
<path d="M6.5,8 C6.5,2 21.3,2 21.3,8 L21.3,14 C21.3,19.6 17.5,22.3 13.9,22.3 C10.3,22.3 6.5,19.6 6.5,14 Z" fill="#fbcb9b" stroke="#111" stroke-width="1.15"/>
<path d="M5.7,11.8 C4,3.2 9.5,0.6 14,0.6 C19,0.6 24,3.4 22.2,11.8 C21.4,10 20.2,8.8 17.6,7.6 C16,9.6 11,11.2 6.9,10 C6.4,10.5 6,11.1 5.7,11.8 Z" fill="#a4643a" stroke="#111" stroke-width="1.15" stroke-linejoin="round"/>
</svg>
<svg class="ic" style="left:743px;top:542px" width="27.8" height="39.4" viewBox="0 0 27.8 39.4">
<path d="M0.6,38.4 C0.9,33.5 1.8,29.5 3.3,27 C4.8,25.4 8,25 10.6,24.5 L17.4,24.5 C20,25 23.2,25.4 24.7,27 C26.2,29.5 27,33.5 27.3,38.4 Z" fill="#7fc08a" stroke="#111" stroke-width="1.15" stroke-linejoin="round"/>
<path d="M11.2,21 L11.2,24.8 C12.2,26.9 15.8,26.9 16.8,24.8 L16.8,21 Z" fill="#f5bf8c" stroke="#111" stroke-width="1" stroke-linejoin="round"/>
<path d="M8.8,24.9 C10.4,29.2 17.6,29.2 19.2,24.9" fill="none" stroke="#111" stroke-width="1"/>
<path d="M9.9,25.6 C11.5,28.2 16.5,28.2 18.1,25.6" fill="none" stroke="#5aa46a" stroke-width="0.8"/>
<path d="M5.8,32.4 L5.8,38.4 M22.3,32.4 L22.3,38.4" fill="none" stroke="#111" stroke-width="1"/>
<circle cx="5.9" cy="12.9" r="1.35" fill="#f5bf8c" stroke="#111" stroke-width="0.9"/>
<circle cx="21.9" cy="12.9" r="1.35" fill="#f5bf8c" stroke="#111" stroke-width="0.9"/>
<path d="M6.5,8 C6.5,2 21.3,2 21.3,8 L21.3,14 C21.3,19.6 17.5,22.3 13.9,22.3 C10.3,22.3 6.5,19.6 6.5,14 Z" fill="#fbcb9b" stroke="#111" stroke-width="1.15"/>
<path d="M5.7,11.8 C4,3.2 9.5,0.6 14,0.6 C19,0.6 24,3.4 22.2,11.8 C21.4,10 20.2,8.8 17.6,7.6 C16,9.6 11,11.2 6.9,10 C6.4,10.5 6,11.1 5.7,11.8 Z" fill="#a4643a" stroke="#111" stroke-width="1.15" stroke-linejoin="round"/>
</svg>
<svg class="ic" style="left:818.7px;top:391.7px" width="27.8" height="39.4" viewBox="0 0 27.8 39.4">
<path d="M0.6,38.4 C0.9,33.5 1.8,29.5 3.3,27 C4.8,25.4 8,25 10.6,24.5 L17.4,24.5 C20,25 23.2,25.4 24.7,27 C26.2,29.5 27,33.5 27.3,38.4 Z" fill="#7fc08a" stroke="#111" stroke-width="1.15" stroke-linejoin="round"/>
<path d="M11.2,21 L11.2,24.8 C12.2,26.9 15.8,26.9 16.8,24.8 L16.8,21 Z" fill="#f5bf8c" stroke="#111" stroke-width="1" stroke-linejoin="round"/>
<path d="M8.8,24.9 C10.4,29.2 17.6,29.2 19.2,24.9" fill="none" stroke="#111" stroke-width="1"/>
<path d="M9.9,25.6 C11.5,28.2 16.5,28.2 18.1,25.6" fill="none" stroke="#5aa46a" stroke-width="0.8"/>
<path d="M5.8,32.4 L5.8,38.4 M22.3,32.4 L22.3,38.4" fill="none" stroke="#111" stroke-width="1"/>
<circle cx="5.9" cy="12.9" r="1.35" fill="#f5bf8c" stroke="#111" stroke-width="0.9"/>
<circle cx="21.9" cy="12.9" r="1.35" fill="#f5bf8c" stroke="#111" stroke-width="0.9"/>
<path d="M6.5,8 C6.5,2 21.3,2 21.3,8 L21.3,14 C21.3,19.6 17.5,22.3 13.9,22.3 C10.3,22.3 6.5,19.6 6.5,14 Z" fill="#fbcb9b" stroke="#111" stroke-width="1.15"/>
<path d="M5.7,11.8 C4,3.2 9.5,0.6 14,0.6 C19,0.6 24,3.4 22.2,11.8 C21.4,10 20.2,8.8 17.6,7.6 C16,9.6 11,11.2 6.9,10 C6.4,10.5 6,11.1 5.7,11.8 Z" fill="#a4643a" stroke="#111" stroke-width="1.15" stroke-linejoin="round"/>
</svg>
<svg class="ic" style="left:847px;top:283.8px" width="27.8" height="39.4" viewBox="0 0 27.8 39.4">
<path d="M0.6,38.4 C0.9,33.5 1.8,29.5 3.3,27 C4.8,25.4 8,25 10.6,24.5 L17.4,24.5 C20,25 23.2,25.4 24.7,27 C26.2,29.5 27,33.5 27.3,38.4 Z" fill="#7fc08a" stroke="#111" stroke-width="1.15" stroke-linejoin="round"/>
<path d="M11.2,21 L11.2,24.8 C12.2,26.9 15.8,26.9 16.8,24.8 L16.8,21 Z" fill="#f5bf8c" stroke="#111" stroke-width="1" stroke-linejoin="round"/>
<path d="M8.8,24.9 C10.4,29.2 17.6,29.2 19.2,24.9" fill="none" stroke="#111" stroke-width="1"/>
<path d="M9.9,25.6 C11.5,28.2 16.5,28.2 18.1,25.6" fill="none" stroke="#5aa46a" stroke-width="0.8"/>
<path d="M5.8,32.4 L5.8,38.4 M22.3,32.4 L22.3,38.4" fill="none" stroke="#111" stroke-width="1"/>
<circle cx="5.9" cy="12.9" r="1.35" fill="#f5bf8c" stroke="#111" stroke-width="0.9"/>
<circle cx="21.9" cy="12.9" r="1.35" fill="#f5bf8c" stroke="#111" stroke-width="0.9"/>
<path d="M6.5,8 C6.5,2 21.3,2 21.3,8 L21.3,14 C21.3,19.6 17.5,22.3 13.9,22.3 C10.3,22.3 6.5,19.6 6.5,14 Z" fill="#fbcb9b" stroke="#111" stroke-width="1.15"/>
<path d="M5.7,11.8 C4,3.2 9.5,0.6 14,0.6 C19,0.6 24,3.4 22.2,11.8 C21.4,10 20.2,8.8 17.6,7.6 C16,9.6 11,11.2 6.9,10 C6.4,10.5 6,11.1 5.7,11.8 Z" fill="#a4643a" stroke="#111" stroke-width="1.15" stroke-linejoin="round"/>
</svg>
<svg class="ic" style="left:1028px;top:92.7px" width="27.8" height="39.4" viewBox="0 0 27.8 39.4">
<path d="M0.6,38.4 C0.9,33.5 1.8,29.5 3.3,27 C4.8,25.4 8,25 10.6,24.5 L17.4,24.5 C20,25 23.2,25.4 24.7,27 C26.2,29.5 27,33.5 27.3,38.4 Z" fill="#7fc08a" stroke="#111" stroke-width="1.15" stroke-linejoin="round"/>
<path d="M11.2,21 L11.2,24.8 C12.2,26.9 15.8,26.9 16.8,24.8 L16.8,21 Z" fill="#f5bf8c" stroke="#111" stroke-width="1" stroke-linejoin="round"/>
<path d="M8.8,24.9 C10.4,29.2 17.6,29.2 19.2,24.9" fill="none" stroke="#111" stroke-width="1"/>
<path d="M9.9,25.6 C11.5,28.2 16.5,28.2 18.1,25.6" fill="none" stroke="#5aa46a" stroke-width="0.8"/>
<path d="M5.8,32.4 L5.8,38.4 M22.3,32.4 L22.3,38.4" fill="none" stroke="#111" stroke-width="1"/>
<circle cx="5.9" cy="12.9" r="1.35" fill="#f5bf8c" stroke="#111" stroke-width="0.9"/>
<circle cx="21.9" cy="12.9" r="1.35" fill="#f5bf8c" stroke="#111" stroke-width="0.9"/>
<path d="M6.5,8 C6.5,2 21.3,2 21.3,8 L21.3,14 C21.3,19.6 17.5,22.3 13.9,22.3 C10.3,22.3 6.5,19.6 6.5,14 Z" fill="#fbcb9b" stroke="#111" stroke-width="1.15"/>
<path d="M5.7,11.8 C4,3.2 9.5,0.6 14,0.6 C19,0.6 24,3.4 22.2,11.8 C21.4,10 20.2,8.8 17.6,7.6 C16,9.6 11,11.2 6.9,10 C6.4,10.5 6,11.1 5.7,11.8 Z" fill="#a4643a" stroke="#111" stroke-width="1.15" stroke-linejoin="round"/>
</svg>

<div class="lab" style="left:65px;top:190px">User</div>
<div class="lab" style="left:245px;top:166px">User</div>
<div class="lab" style="left:239px;top:504.7px">User</div>
<div class="lab" style="left:521.5px;top:375px">User</div>
<div class="lab" style="left:743px;top:586px">User</div>
<div class="lab" style="left:818.5px;top:435.7px">User</div>
<div class="lab" style="left:847px;top:328px">User</div>
<div class="lab" style="left:1028px;top:51px">User</div>
<div class="lab org" style="left:663px;top:123px">Origin</div>

</div>
</body>
</html>
